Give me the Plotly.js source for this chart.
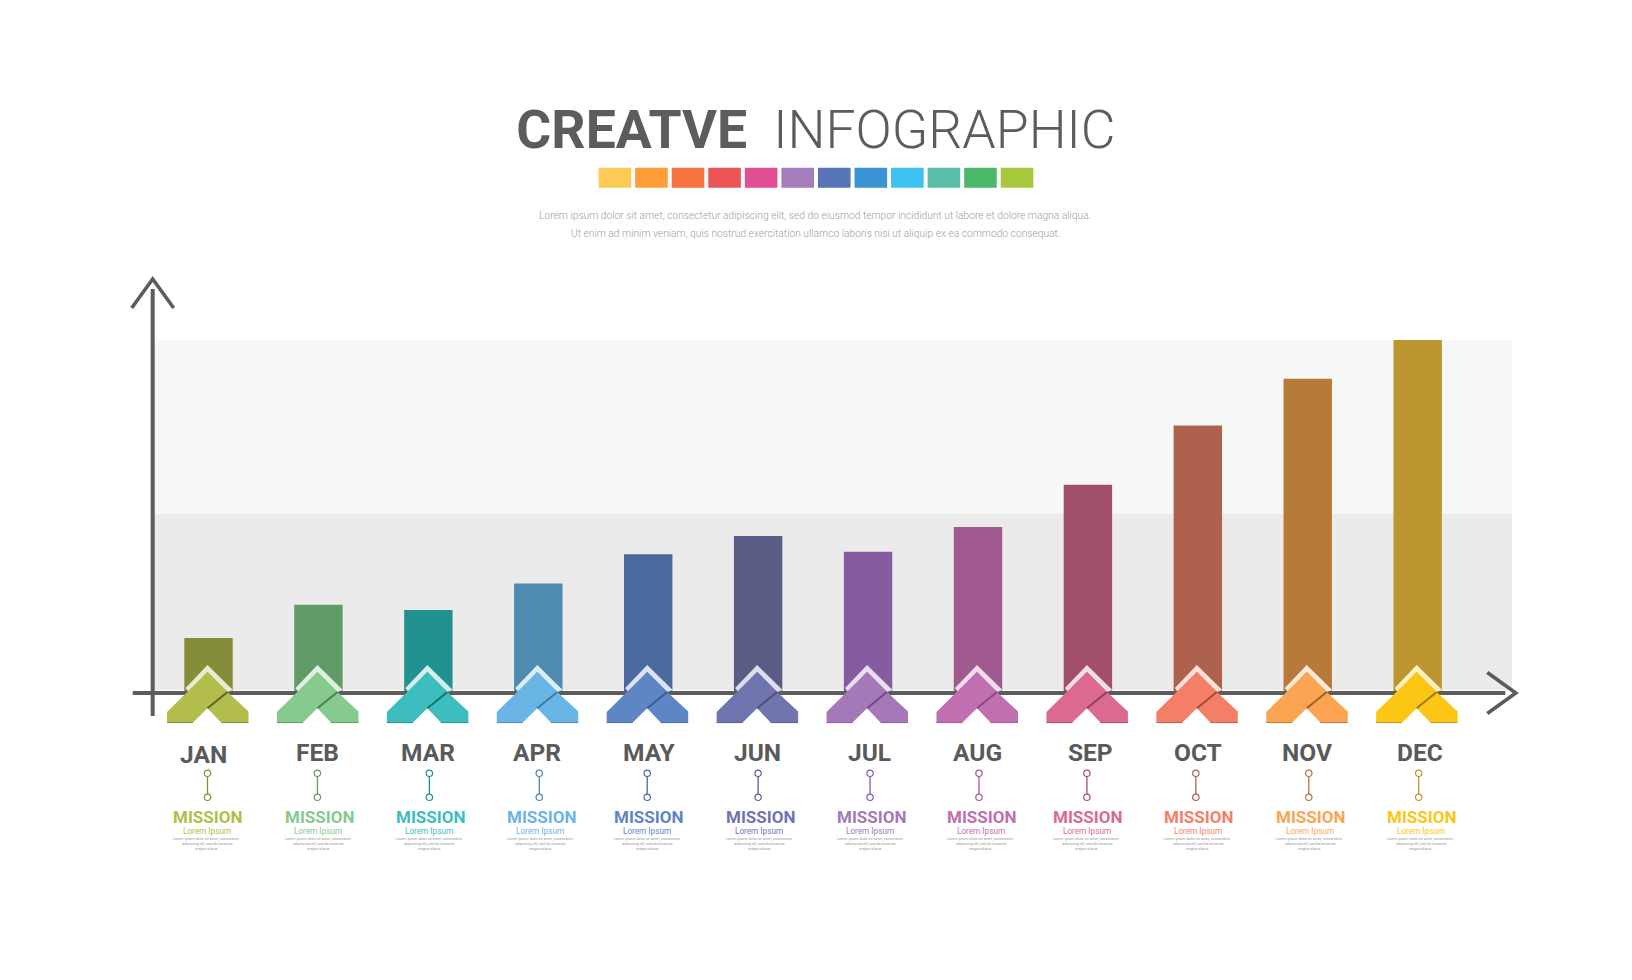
<!DOCTYPE html>
<html>
<head>
<meta charset="utf-8">
<script src="https://cdn.plot.ly/plotly-3.0.1.min.js"></script>
<style>html,body{margin:0;padding:0;background:#fff}#chart{width:1632px;height:980px}</style>
</head>
<body>
<div id="chart"></div>
<script>
const months = ['JAN','FEB','MAR','APR','MAY','JUN','JUL','AUG','SEP','OCT','NOV','DEC'];
const values = [15.6,25,23.5,31,39.3,44.5,40,47,59,75.8,89,100];
const barColors = ['#868d3a','#619b68','#229191','#4f8bb0','#4a6a9f','#5b5c86','#865ba0','#a05a90','#a24f6e','#ae614d','#b87a3a','#bd9630'];
const foldColors = ['#5f661f','#4a8052','#167272','#3d7ba3','#3c5a8e','#4e4f78','#6f4a88','#8a4a7a','#8c3f5c','#9a4e3a','#9a6226','#9a7a16'];
const arrowColors = ['#b2bd4c','#86ca8d','#3dbdbd','#69b5e5','#5f86c4','#7075b0','#a578b8','#c06fb0','#dc6a90','#f57f66','#fba553','#fbc614'];
const bandTints = ['#e9ebcf','#dff0e0','#d3eeee','#daecf8','#d9e3f2','#dcdded','#e9deee','#f0dcec','#f6dce5','#fcdfd9','#fde9d5','#fef0c5'];
const swatchColors = ['#fdca55','#fd9e38','#f7733f','#ec5557','#e14f94','#a47dba','#5874b8','#3a93d2','#3dc1ef','#5abda9','#4cb86c','#a7c83c'];
const monthNudge = [-5,-1,0,-1,1,-1,1,0,3,0,-1,2];
const missionNudge = [-1,1,2,3,0,2,3,4,0,1,3,4];
const linkNudge = [-1,-1,1,1,-1,0,2,1,-1,-2,1,1];
const subtitleLines = ['Lorem ipsum dolor sit amet, consectetur adipiscing elit, sed do eiusmod tempor incididunt ut labore et dolore magna aliqua.','Ut enim ad minim veniam, quis nostrud exercitation ullamco laboris nisi ut aliquip ex ea commodo consequat.'];
const tinyLines = ['Lorem ipsum dolor sit amet, consectetur','adipiscing elit, sed do eiusmod','magna aliqua.'];

const W = 1632, H = 980, L = 153, R = 1511.7, T = 340, B = 692.7, STEP = 109.9, FIRST = 208.5;
const px = v => (v - L) / (R - L);
const py = v => (B - v) / (B - T);
const catX = i => px(FIRST + STEP * i);
const INK = '#5c5c5c';
const shapes = [];
shapes.push({type:'rect',layer:'below',xref:'paper',yref:'y',x0:0,x1:1,y0:50.7,y1:100,fillcolor:'#f6f7f7',line:{width:0}});
shapes.push({type:'rect',layer:'below',xref:'paper',yref:'y',x0:0,x1:1,y0:0.8,y1:50.7,fillcolor:'#ebebeb',line:{width:0}});

const axisLine = {color:INK,width:4};
shapes.push({type:'line',xref:'paper',yref:'paper',x0:px(152.7),x1:px(152.7),y0:py(289),y1:py(715.7),line:axisLine});
shapes.push({type:'line',xref:'paper',yref:'paper',x0:px(132.7),x1:px(1505),y0:py(692.7),y1:py(692.7),line:axisLine});
shapes.push({type:'path',xref:'paper',yref:'paper',xsizemode:'pixel',ysizemode:'pixel',xanchor:px(152.7),yanchor:py(279),
  path:'M -21 -29 L 0 0 L 21 -29',line:{color:INK,width:3.6}});
shapes.push({type:'path',xref:'paper',yref:'paper',xsizemode:'pixel',ysizemode:'pixel',xanchor:px(1515.5),yanchor:py(692.7),
  path:'M -28.5 20.5 L 0 0 L -28.5 -20.5',line:{color:INK,width:3.6}});

const anchored = (i, path, extra) => Object.assign({type:'path',xref:'paper',yref:'paper',xsizemode:'pixel',ysizemode:'pixel',xanchor:catX(i),yanchor:0,path}, extra);
const ring = (i, dx, up, color) => ({type:'circle',xref:'paper',yref:'paper',xsizemode:'pixel',ysizemode:'pixel',xanchor:catX(i),yanchor:0,
  x0:dx-3.2,x1:dx+3.2,y0:up-3.2,y1:up+3.2,line:{color,width:1.2},fillcolor:'rgba(0,0,0,0)'});
months.forEach((m,i) => {
  shapes.push(anchored(i,'M -23 5 L -1 28 L 24.5 3 L 19 1 L -1 21 L -20 1 Z',{fillcolor:bandTints[i],line:{width:0}}));
  shapes.push(anchored(i,'M -1 21 L 19 1 L 40 -18.5 L 40 -29.6 L 12.5 -29.6 L -1 -15.3 L -15.5 -29.6 L -41.5 -29.6 L -41.5 -19 Z',{fillcolor:arrowColors[i],line:{width:0}}));
  shapes.push(anchored(i,'M -1 -15.3 L 19 1',{line:{color:foldColors[i],width:2}}));
  shapes.push(anchored(i,'M -41.5 -29.6 L -15.5 -29.6 M 12.5 -29.6 L 40 -29.6',{line:{color:barColors[i],width:1}}));
  const d = linkNudge[i];
  shapes.push(anchored(i,`M ${d} -83.5 L ${d} -101`,{line:{color:barColors[i],width:1.3}}));
  shapes.push(ring(i,d,-80.3,barColors[i]));
  shapes.push(ring(i,d,-104.3,barColors[i]));
});
swatchColors.forEach((c,i) => {
  shapes.push({type:'rect',xref:'paper',yref:'paper',x0:px(598.5+36.55*i),x1:px(598.5+36.55*i+32.6),y0:py(188),y1:py(168),fillcolor:c,line:{width:0}});
});

const annotations = [];
const txt = (text,x,yPx,font,extra) => Object.assign({text,x,xref:'x',y:py(yPx),yref:'paper',showarrow:false,xanchor:'center',yanchor:'middle',font},extra);
months.forEach((m,i) => {
  annotations.push(txt(m,i*STEP/110,i===0?754:752.5,{family:'Roboto',size:24.5,weight:700,color:'#5a5a5a'},{xshift:monthNudge[i]}));
  annotations.push(txt('MISSION',i*STEP/110,816.5,{family:'Roboto',size:17,weight:700,color:arrowColors[i]},{xshift:missionNudge[i]}));
  annotations.push(txt('Lorem Ipsum',i*STEP/110,830.5,{family:'Roboto',size:8.2,color:arrowColors[i]},{xshift:missionNudge[i]-1}));
  tinyLines.forEach((line,k) => {
    annotations.push(txt(line,i*STEP/110,839+5*k,{family:'Roboto',size:3.7,color:'#9a9a9a'},{xshift:missionNudge[i]-1}));
  });
});
subtitleLines.forEach((line,k) => {
  annotations.push({text:line,xref:'paper',yref:'paper',x:px(815),y:py(215.5+18.5*k),showarrow:false,xanchor:'center',yanchor:'middle',
    font:{family:'Roboto',size:10.25,weight:300,color:'#a0a0a0'}});
});

const data = [{type:'bar',x:months.map((m,i)=>i*STEP/110),y:values,width:0.44,marker:{color:barColors,line:{width:0}},hoverinfo:'skip'}];
const layout = {
  width:W,height:H,showlegend:false,paper_bgcolor:'#fff',plot_bgcolor:'rgba(0,0,0,0)',
  margin:{l:L,r:W-R,t:T,b:H-B,pad:0},
  title:{text:'<b>CREATVE</b>\u00a0\u00a0INFOGRAPHIC',font:{family:'Roboto',size:53.5,weight:300,color:INK},
    x:816/W,xref:'container',xanchor:'center',y:1-129/H,yanchor:'middle'},
  xaxis:{range:[(L-FIRST)/110,(R-FIRST)/110],visible:false,fixedrange:true},
  yaxis:{range:[0,100],visible:false,fixedrange:true},
  shapes,annotations
};
Plotly.newPlot('chart',data,layout,{displayModeBar:false,staticPlot:true});
</script>
</body>
</html>
